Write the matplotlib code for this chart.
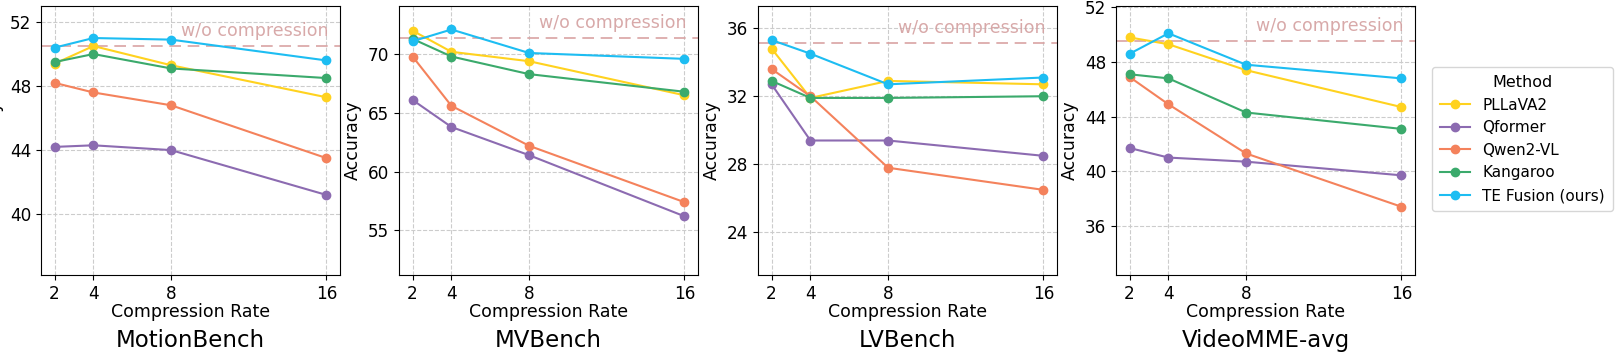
import matplotlib
matplotlib.use("Agg")
import matplotlib.pyplot as plt

rates = [2, 4, 8, 16]
benchmarks = ["MotionBench", "MVBench", "LVBench", "VideoMME-avg"]
methods = ["PLLaVA2", "Qformer", "Qwen2-VL", "Kangaroo", "TE Fusion (ours)"]
colors = ["#FFD21F", "#8C6BB1", "#F4825C", "#3BAA6C", "#1DBDF2"]

motion = {
    "PLLaVA2": [49.4, 50.5, 49.3, 47.3],
    "Qformer": [44.2, 44.3, 44.0, 41.2],
    "Qwen2-VL": [48.2, 47.6, 46.8, 43.5],
    "Kangaroo": [49.5, 50.0, 49.1, 48.5],
    "TE Fusion (ours)": [50.4, 51.0, 50.9, 49.6],
}
mvbench = {
    "PLLaVA2": [72.0, 70.2, 69.4, 66.5],
    "Qformer": [66.1, 63.8, 61.4, 56.2],
    "Qwen2-VL": [69.8, 65.6, 62.2, 57.4],
    "Kangaroo": [71.3, 69.8, 68.3, 66.8],
    "TE Fusion (ours)": [71.1, 72.1, 70.1, 69.6],
}
lvbench = {
    "PLLaVA2": [34.8, 31.9, 32.9, 32.7],
    "Qformer": [32.7, 29.4, 29.4, 28.5],
    "Qwen2-VL": [33.6, 32.0, 27.8, 26.5],
    "Kangaroo": [32.9, 31.9, 31.9, 32.0],
    "TE Fusion (ours)": [35.3, 34.5, 32.7, 33.1],
}
videomme = {
    "PLLaVA2": [49.8, 49.3, 47.4, 44.7],
    "Qformer": [41.7, 41.0, 40.7, 39.7],
    "Qwen2-VL": [46.9, 44.9, 41.3, 37.4],
    "Kangaroo": [47.1, 46.8, 44.3, 43.1],
    "TE Fusion (ours)": [48.6, 50.1, 47.8, 46.8],
}
baselines = [50.5, 71.4, 35.1, 49.55]
yticks = [[40, 44, 48, 52], [55, 60, 65, 70], [24, 28, 32, 36], [36, 40, 44, 48, 52]]
all_data = [motion, mvbench, lvbench, videomme]

W, H = 1617, 353
fig = plt.figure(figsize=(W / 100, H / 100), dpi=100)
lefts = [41, 399, 758, 1116]
aw = 299
top_px, bot_px = 6, 275
FS = 12.5

handles = []
for i, (name, data) in enumerate(zip(benchmarks, all_data)):
    ax = fig.add_axes([lefts[i] / W, 1 - bot_px / H, aw / W, (bot_px - top_px) / H])
    vals = [v for m in methods for v in data[m]]
    for m, c in zip(methods, colors):
        h, = ax.plot(rates, data[m], marker="o", color=c, lw=1.5, ms=6, label=m, zorder=3)
        if i == 0:
            handles.append(h)
    ax.axhline(baselines[i], color="#D9A3A3", ls=(0, (7, 4)), lw=1.2, zorder=2)
    ax.annotate("w/o compression", xy=(16.1, baselines[i]), xytext=(0, 10),
                textcoords="offset pixels", ha="right", va="baseline",
                fontsize=FS, color="#D4A0A0", alpha=0.9)
    ax.set_xlim(1.3, 16.7)
    ax.set_ylim(min(vals) - 5, max(vals) + 2)
    ax.set_xticks(rates)
    ax.set_yticks(yticks[i])
    ax.tick_params(labelsize=12.2)
    ax.grid(True, ls="--", color="#cccccc", lw=0.8)
    ax.set_axisbelow(True)
    ax.set_xlabel("Compression Rate", fontsize=FS, labelpad=0.5)
    ax.set_ylabel("Accuracy", fontsize=FS, labelpad=4)
    ax.text(0.5, -0.2665, name, transform=ax.transAxes, ha="center", va="baseline", fontsize=16.5)

fig.legend(handles=handles, labels=methods, title="Method", loc="center left",
           bbox_to_anchor=(1432 / W, 1 - 139 / H), fontsize=11, title_fontsize=11.5,
           frameon=True, borderpad=0.5, borderaxespad=0)

fig.savefig("out.png", dpi=100)
